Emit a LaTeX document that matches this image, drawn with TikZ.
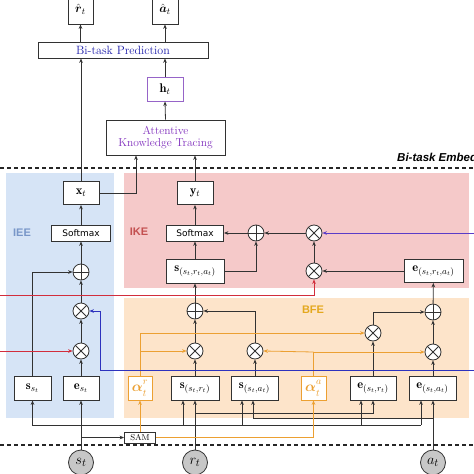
\documentclass[tikz,border=0pt]{standalone}
\usepackage{amsmath}
\usepackage{fontspec}
\newfontfamily\helv{Liberation Sans}
\newfontfamily\djv{DejaVu Sans}
\usetikzlibrary{arrows.meta}
\definecolor{ieebg}{RGB}{214,228,246}
\definecolor{ikebg}{RGB}{245,201,201}
\definecolor{bfebg}{RGB}{253,228,202}
\definecolor{ieetxt}{RGB}{120,150,200}
\definecolor{iketxt}{RGB}{195,80,80}
\definecolor{bfetxt}{RGB}{228,168,30}
\definecolor{orln}{RGB}{236,160,50}
\definecolor{redln}{RGB}{210,45,60}
\definecolor{blueln}{RGB}{45,50,190}
\definecolor{violetln}{RGB}{90,60,200}
\definecolor{predtxt}{RGB}{30,30,170}
\definecolor{akttxt}{RGB}{130,50,190}
\definecolor{htbord}{RGB}{150,100,200}
\definecolor{lnclr}{RGB}{50,50,50}
\newcommand{\alphaup}[1]{\boldsymbol{\alpha}^{\raisebox{2pt}{$\scriptstyle #1$}}_{\raisebox{-1pt}{$\scriptstyle t$}}}
\begin{document}
\begin{tikzpicture}[x=1pt,y=-1pt,
  box/.style={draw=lnclr,fill=white,line width=0.8pt,inner sep=0pt,font=\fontsize{12.5}{14}\selectfont},
  obox/.style={box,draw=orln,text=orln,font=\fontsize{14}{15}\selectfont},
  smx/.style={box,font=\djv\fontsize{9}{10}\selectfont},
  ln/.style={line width=0.8pt,draw=lnclr},
  arr/.style={ln,-{Stealth[length=4.5pt,width=3.6pt]}},
  oarr/.style={arr,draw=orln},
  oln/.style={ln,draw=orln},
  rarr/.style={arr,draw=redln},
  barr/.style={arr,draw=blueln},
  varr/.style={arr,draw=violetln},
  opl/.style={circle,draw=lnclr,fill=white,line width=0.8pt,minimum size=16pt,inner sep=0pt,
    path picture={\draw[line width=0.8pt,lnclr] (path picture bounding box.north) -- (path picture bounding box.south) (path picture bounding box.west) -- (path picture bounding box.east);}},
  otm/.style={circle,draw=lnclr,fill=white,line width=0.8pt,minimum size=16pt,inner sep=0pt,
    path picture={\draw[line width=0.8pt,lnclr] (path picture bounding box.north west) -- (path picture bounding box.south east) (path picture bounding box.north east) -- (path picture bounding box.south west);}},
  inp/.style={circle,draw=lnclr,fill=black!22,line width=0.8pt,minimum size=25pt,inner sep=0pt,font=\fontsize{15}{16}\selectfont},
  sep/.style={line width=1.1pt,draw=black!85,dash pattern=on 4pt off 3pt},
  reg/.style={font=\helv\bfseries\fontsize{11}{12}\selectfont}
]
\path[use as bounding box] (0,0) rectangle (474,474);
\clip (0,0) rectangle (474,474);

% regions
\fill[ieebg] (6,173) rectangle (114,418);
\fill[ikebg] (124,173) rectangle (469,288);
\fill[bfebg] (124,298) rectangle (469,418);
\node[reg,text=ieetxt] (lblIEE) at (22,233) {IEE};
\node[reg,text=iketxt] (lblIKE) at (139,232) {IKE};
\node[reg,text=bfetxt] (lblBFE) at (313,310) {BFE};

% separators
\draw[sep] (0,168) -- (474,168);
\draw[sep] (0,445) -- (474,445);
\node[anchor=south west,inner sep=0pt,font=\helv\bfseries\itshape\fontsize{11.5}{12}\selectfont] (bte) at (397,164) {Bi-task Embedding};

% top part
\node[box,minimum width=25pt,minimum height=30pt] (rhat) at (80.5,9) {\raisebox{-3pt}{$\hat{\boldsymbol r}_t$}};
\node[box,minimum width=26pt,minimum height=30pt] (ahat) at (165,9) {\raisebox{-3pt}{$\hat{\boldsymbol a}_t$}};
\node[box,minimum width=170pt,minimum height=16pt,text=predtxt,font=\fontsize{12}{13}\selectfont] (pred) at (123,50) {Bi-task Prediction};
\node[box,draw=htbord,minimum width=36pt,minimum height=24pt] (ht) at (165,89) {$\mathbf{h}_t$};
\node[box,minimum width=119pt,minimum height=35pt,text=akttxt,align=center,font=\fontsize{11.5}{12.5}\selectfont] (akt) at (165.5,137.5) {Attentive\\Knowledge Tracing};

% IEE
\node[box,minimum width=36pt,minimum height=23pt] (xt) at (81,193) {$\mathbf{x}_t$};
\node[smx,minimum width=59pt,minimum height=16pt] (smx1) at (81,233) {Softmax};
\node[opl] (add1) at (81,272) {};
\node[otm] (mulA) at (81,311) {};
\node[otm] (mulB) at (81,351) {};
\node[box,minimum width=37pt,minimum height=24pt] (sst) at (32.5,388) {$\mathbf{s}_{s_t}$};
\node[box,minimum width=36pt,minimum height=24pt] (est) at (81,388) {$\mathbf{e}_{s_t}$};

% IKE
\node[box,minimum width=36pt,minimum height=23pt] (yt) at (195,193) {$\mathbf{y}_t$};
\node[smx,minimum width=57pt,minimum height=16pt] (smx2) at (195,233) {Softmax};
\node[box,minimum width=58pt,minimum height=24pt] (srta) at (195,271) {$\mathbf{s}_{(s_t,r_t,a_t)}$};
\node[opl] (addK) at (256,233) {};
\node[otm] (mulK1) at (314,233) {};
\node[otm] (mulK2) at (314,271) {};
\node[box,minimum width=59pt,minimum height=23pt] (erta) at (433.5,271) {$\mathbf{e}_{(s_t,r_t,a_t)}$};

% BFE
\node[obox,minimum width=24pt,minimum height=24pt] (alr) at (140,388) {$\alphaup{r}$};
\node[box,minimum width=48pt,minimum height=24pt] (ssr) at (195,388) {$\mathbf{s}_{(s_t,r_t)}$};
\node[box,minimum width=47pt,minimum height=24pt] (ssa) at (254.5,388) {$\mathbf{s}_{(s_t,a_t)}$};
\node[obox,minimum width=25pt,minimum height=24pt] (ala) at (313.5,388) {$\alphaup{a}$};
\node[box,minimum width=46pt,minimum height=24pt] (esr) at (373,388) {$\mathbf{e}_{(s_t,r_t)}$};
\node[box,minimum width=47pt,minimum height=24pt] (esa) at (432.5,388) {$\mathbf{e}_{(s_t,a_t)}$};
\node[otm] (mulSR) at (195,351) {};
\node[otm] (mulSA) at (255,351) {};
\node[opl] (addS) at (195,311) {};
\node[otm] (mulER) at (373,333) {};
\node[otm] (mulEA) at (433,352) {};
\node[opl] (addE) at (433,312) {};

% inputs
\node[box,minimum width=31pt,minimum height=11pt,font=\fontsize{8.5}{9}\selectfont] (sam) at (140,437.5) {SAM};
\node[inp] (st) at (81,462.5) {$s_t$};
\node[inp] (rt) at (195,462.5) {$r_t$};
\node[inp] (at) at (433,462.5) {$a_t$};

% coordinates for free line ends
\coordinate (redA) at (0,295);
\coordinate (redB) at (0,351);
\coordinate (blueR) at (474,370);
\coordinate (violR) at (474,233);

% top connectors
\draw[arr] (pred.north -| rhat) -- (rhat.south);
\draw[arr] (pred.north -| ahat) -- (ahat.south);
\draw[arr] (ht.north) -- (ht.north |- pred.south);
\draw[arr] (akt.north) -- (ht.south);
\draw[arr] (xt.north) -- (xt.north |- pred.south);
\draw[arr] (xt.east) -| (136,0 |- akt.south);
\draw[arr] (yt.north) -- (yt.north |- akt.south);

% IEE connectors
\draw[arr] (smx1) -- (xt);
\draw[arr] (add1) -- (smx1);
\draw[arr] (mulA) -- (add1);
\draw[arr] (mulB) -- (mulA);
\draw[arr] (est) -- (mulB);
\draw[arr] (sst.north) |- (add1.west);

% IKE connectors
\draw[arr] (smx2) -- (yt);
\draw[arr] (srta) -- (smx2);
\draw[arr] (srta.east) -| (addK.south);
\draw[arr] (mulK1) -- (addK);
\draw[arr] (addK) -- (smx2);
\draw[arr] (mulK2) -- (mulK1);
\draw[arr] (erta) -- (mulK2);
\draw[arr] (addE) -- (erta);
\draw[arr] (addS) -- (srta);

% BFE connectors
\draw[arr] (ssr) -- (mulSR);
\draw[arr] (mulSR) -- (addS);
\draw[arr] (ssa.north -| mulSA) -- (mulSA);
\draw[arr] (mulSA.north) |- (addS.east);
\draw[arr] (esr) -- (mulER);
\draw[arr] (mulER.north) |- (addE.west);
\draw[arr] (esa.north -| mulEA) -- (mulEA);
\draw[arr] (mulEA) -- (addE);

% input connectors
\draw[arr] (st) -- (est);
\draw[arr] (81,425) -| (sst.south);
\draw[ln] (81,425) -- (421,425);
\draw[arr] (183,425) -- (183,0 |- ssr.south);
\draw[arr] (242,425) -- (242,0 |- ssa.south);
\draw[arr] (361,425) -- (361,0 |- esr.south);
\draw[arr] (421,425) -- (421,0 |- esa.south);
\draw[arr] (81,437.5) -- (sam.west);
\draw[arr] (rt) -- (ssr);
\draw[arr] (195,413) -| (esr.south);
\draw[arr] (at) -- (esa.south -| at);
\draw[arr] (433,418) -| (253,0 |- ssa.south);

% orange
\draw[oarr] (sam.north) -- (alr.south);
\draw[oarr] (sam.east) -| (ala.south);
\draw[oarr] (alr.north) |- (mulER.west);
\draw[oarr] (140,351) -- (mulSR.west);
\draw[oln] (ala.north) -- (313.5,352);
\draw[oarr] (313.5,352) -- (mulSA.east);
\draw[oarr] (313.5,352) -- (mulEA.west);

% red / blue
\draw[rarr] (redA) -| (mulK2.south);
\draw[rarr] (redB) -- (mulB.west);
\draw[barr] (blueR) -| (100,311) -- (mulA.east);
\draw[varr] (violR) -- (mulK1.east);
\end{tikzpicture}
\end{document}
